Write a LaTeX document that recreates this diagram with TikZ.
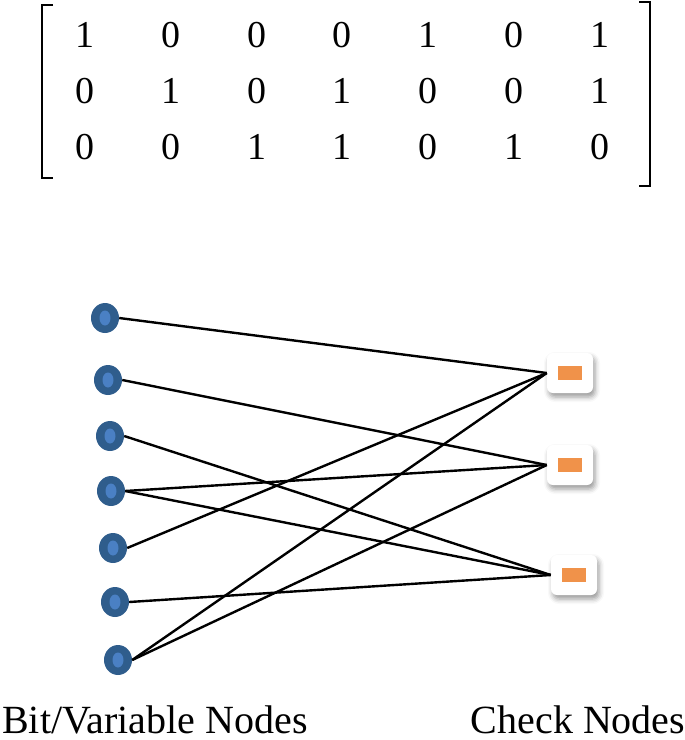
\documentclass[tikz,border=0pt]{standalone}
\usepackage{fontspec}
\setmainfont{Liberation Serif}
\usetikzlibrary{shadows.blur,shapes.geometric}
\definecolor{vout}{HTML}{2F5D8C}
\definecolor{vin}{HTML}{4A80C4}
\definecolor{corg}{HTML}{F0924A}
\begin{document}
\begin{tikzpicture}[x=1pt,y=-1pt,
  var/.style={ellipse,draw=none,fill=vout,minimum width=28pt,minimum height=30pt,inner sep=0pt,
    path picture={\fill[vin] (path picture bounding box.center) ellipse (5.5pt and 7.5pt);}},
  chk/.style={rectangle,rounded corners=6pt,fill=white,minimum width=46pt,minimum height=40pt,blur shadow={shadow xshift=2pt,shadow yshift=-4pt,shadow blur radius=5pt},
    path picture={\fill[corg,sharp corners] ([xshift=-12pt,yshift=-7pt]path picture bounding box.center) rectangle ([xshift=12pt,yshift=7pt]path picture bounding box.center);}},
  edge/.style={line width=2.4pt,black},
  num/.style={font=\fontsize{38}{44}\selectfont},
  lbl/.style={font=\fontsize{40}{46}\selectfont}]
\useasboundingbox (0,0) rectangle (685,740);
\draw[line width=2.4pt] (53,5) -- (42,5) -- (42,178) -- (53,178);
\draw[line width=2.4pt] (639,2) -- (650,2) -- (650,186) -- (639,186);
\foreach \r [count=\i] in {{1,0,0,0,1,0,1},{0,1,0,1,0,0,1},{0,0,1,1,0,1,0}}{
  \foreach \v [count=\j] in \r {
    \pgfmathsetmacro\xx{85+(\j-1)*85.8}
    \node[num] (m\i\j) at (\xx,{35+(\i-1)*56}) {\v};
  }
}
\node[var] (v1) at (105,318) {};
\node[var] (v2) at (108,380) {};
\node[var] (v3) at (110,436) {};
\node[var] (v4) at (111,491) {};
\node[var] (v5) at (113,548) {};
\node[var] (v6) at (115,602) {};
\node[var] (v7) at (118,660) {};
\node[chk] (c1) at (570,373) {};
\node[chk] (c2) at (570,465) {};
\node[chk] (c3) at (574,575) {};
\foreach \a/\b in {v1/c1,v5/c1,v7/c1,v2/c2,v4/c2,v7/c2,v3/c3,v4/c3,v6/c3}
  \draw[edge] (\a.east) -- (\b.west);
\node[lbl] (lb) at (155,720) {Bit/Variable Nodes};
\node[lbl] (lc) at (578,720) {Check Nodes};
\end{tikzpicture}
\end{document}
